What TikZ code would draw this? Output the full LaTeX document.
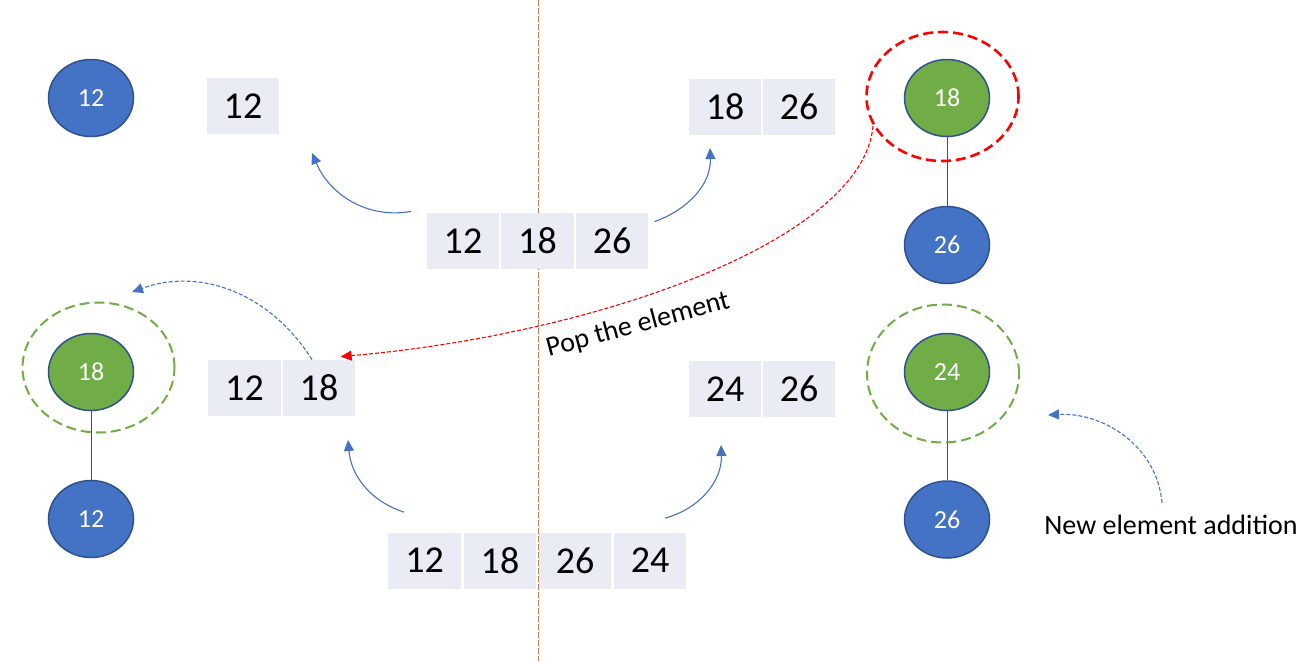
\documentclass[tikz,border=0pt]{standalone}
\usepackage{fontspec}
\setmainfont{Carlito}
\usetikzlibrary{arrows.meta,shapes.geometric}
\definecolor{nodeblue}{HTML}{4472C4}
\definecolor{rimblue}{HTML}{2F528F}
\definecolor{nodegreen}{HTML}{70AD47}
\definecolor{cellgray}{HTML}{E9EBF5}
\definecolor{splitorange}{HTML}{ED7D31}

\begin{document}
\begin{tikzpicture}[x=0.5pt,y=0.5pt]
    \tikzstyle{every node}+=[inner sep=0pt]
    \tikzstyle{cell}=[fill=cellgray, minimum width=36.25pt, minimum height=28pt, font=\fontsize{19}{22}\selectfont]
    \tikzstyle{bnode}=[ellipse, draw=rimblue, line width=0.75pt, fill=nodeblue, text=white, minimum width=42.5pt, minimum height=38.5pt, font=\fontsize{13}{16}\selectfont]
    \tikzstyle{gnode}=[bnode, fill=nodegreen]
    \tikzstyle{link}=[rimblue, line width=0.5pt]
    \tikzstyle{ring}=[line width=1pt, dash pattern=on 5pt off 2.5pt]
    \tikzstyle{push}=[nodeblue, line width=0.55pt, -{Triangle[length=5.5pt,width=5pt]}]
    \tikzstyle{hint}=[push, dash pattern=on 2pt off 1pt]
    \tikzstyle{label}=[font=\fontsize{14}{17}\selectfont]
    \useasboundingbox (0,0) rectangle (1315,-661);
    \draw [splitorange!55!gray, line width=0.45pt, dash pattern=on 3pt off 1pt] (538,0) -- (538,-661);
    \node [bnode] (t12) at (91,-98) {12};
    \node [cell] (s12) at (243,-106) {12};
    \node [cell] (a12) at (463,-241) {12};
    \node [cell] (a18) at (537.5,-241) {18};
    \node [cell] (a26) at (612,-241) {26};
    \node [cell] (r18) at (725,-107) {18};
    \node [cell] (r26) at (799,-107) {26};
    \node [gnode] (rt18) at (947,-98) {18};
    \node [bnode] (rt26) at (947,-245) {26};
    \draw [link] (rt18) -- (rt26);
    \draw [ring, red, line width=1.3pt] (942.5,-96.5) ellipse (76 and 64.5);
    \node [gnode] (l18) at (91,-372) {18};
    \node [bnode] (l12) at (91,-519) {12};
    \draw [link] (l18) -- (l12);
    \draw [ring, nodegreen] (98.5,-367.5) ellipse (76 and 65);
    \node [cell] (m12) at (244.5,-388) {12};
    \node [cell] (m18) at (319,-388) {18};
    \node [cell] (b12) at (424.7,-560.5) {12};
    \node [cell] (b18) at (500,-560.5) {18};
    \node [cell] (b26) at (575,-560.5) {26};
    \node [cell] (b24) at (650,-560.5) {24};
    \node [cell] (n24) at (725,-389) {24};
    \node [cell] (n26) at (799,-389) {26};
    \node [gnode] (rb24) at (947,-372) {24};
    \node [bnode] (rb26) at (947,-519.5) {26};
    \draw [link] (rb24) -- (rb26);
    \draw [ring, nodegreen] (943,-373.5) ellipse (76 and 69);
    \node [label] (add) at (1171,-525) {New element addition};
    \node [label, rotate=15] (pop) at (638,-325) {Pop the element};
    \coordinate (s12tip) at (312,-153);
    \coordinate (r18tip) at (710,-148);
    \coordinate (m18tip) at (348,-440);
    \coordinate (n24tip) at (721,-445);
    \coordinate (l18tip) at (132,-292);
    \coordinate (poptail) at (873,-126);
    \coordinate (rb24tip) at (1048,-415);
    \draw [push] ([xshift=-7.5pt,yshift=0.6pt]a12.north west) to [out=190,in=-67] (s12tip);
    \draw [push] ([xshift=3pt,yshift=-4.5pt]a26.north east) to [out=20,in=-88] (r18tip);
    \draw [push] ([xshift=8pt,yshift=10pt]b12.north west) to [out=162,in=-85] (m18tip);
    \draw [push] ([xshift=7.5pt,yshift=7pt]b24.north) to [out=15,in=-88] (n24tip);
    \draw [hint] ([xshift=-3.5pt]m18.north) to [out=122,in=20] (l18tip);
    \draw [hint] ([xshift=-4.5pt,yshift=6pt]add.north) to [out=95,in=3] (rb24tip);
    \draw [red, line width=0.55pt, dash pattern=on 2pt off 1pt, -{Triangle[length=5.5pt,width=5pt]}] (poptail) to [out=-95,in=5,out looseness=0.5,in looseness=1.15] ([xshift=-7.5pt,yshift=1.5pt]m18.north east);
\end{tikzpicture}
\end{document}
